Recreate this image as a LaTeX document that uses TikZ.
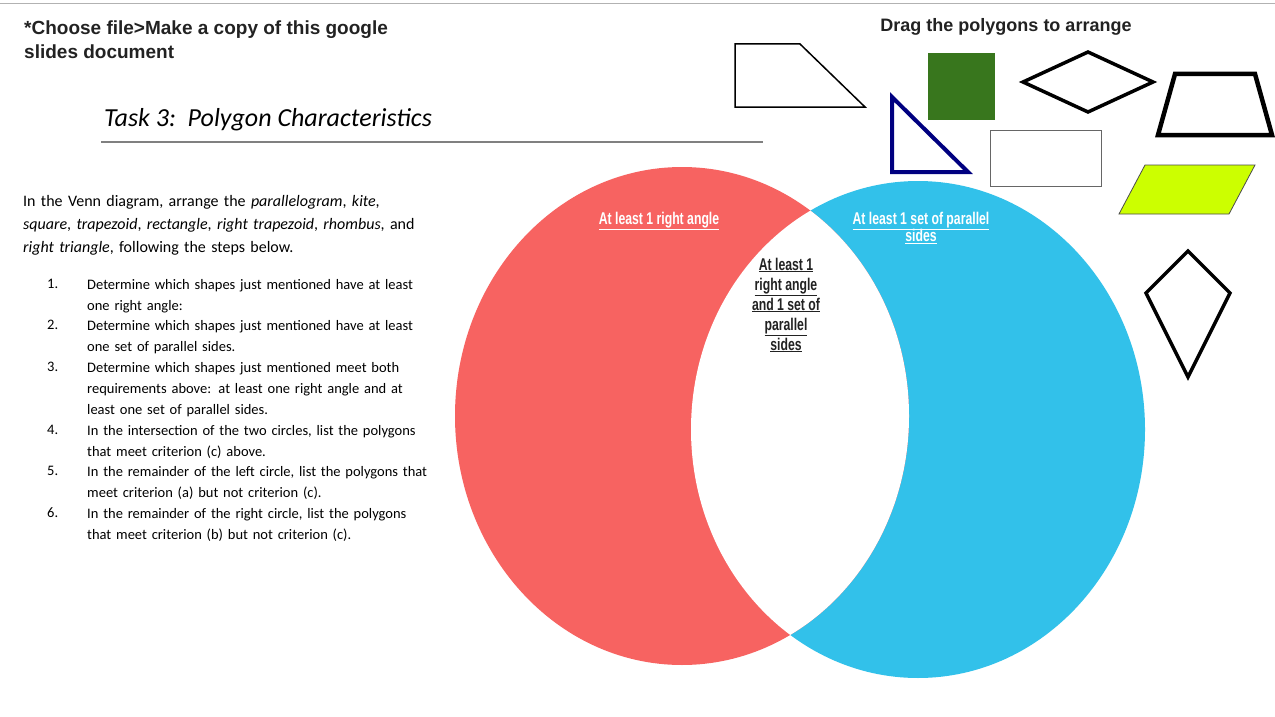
\documentclass[tikz,border=0pt]{standalone}
\usepackage{fontspec}
\setmainfont{Carlito}
\newfontfamily\hv{Liberation Sans}
\newfontfamily\cond[FakeStretch=0.72]{Liberation Sans Bold}
\definecolor{vred}{HTML}{F76361}
\definecolor{vblue}{HTML}{32C1EA}
\definecolor{dgreen}{HTML}{38761D}
\definecolor{lime}{HTML}{CCFF00}
\definecolor{navy2}{HTML}{000080}
\definecolor{txt}{HTML}{222222}
\tikzset{
  lbl/.style={font=\cond\fontsize{17}{21}\selectfont, align=center, inner sep=0},
  itm/.style={anchor=north west, align=left, text width=340pt, inner sep=0, font=\fontsize{14.5}{21}\selectfont},
  num/.style={anchor=north west, inner sep=0, font=\fontsize{14.5}{21}\selectfont},
}
\begin{document}
\begin{tikzpicture}[x=1pt,y=-1pt]
\useasboundingbox (0,0) rectangle (1275,717);
\fill[white] (0,0) rectangle (1275,717);
\draw[gray!60, line width=1pt] (0,3.5) -- (1275,3.5);
% headings
\node[anchor=north west, inner sep=0, align=left, text=txt, font=\hv\bfseries\fontsize{19}{24}\selectfont] (h1) at (24,21) {*Choose file>Make a copy of this google\\slides document};
\node[anchor=west, inner sep=0, font=\itshape\fontsize{26}{30}\selectfont] (t3) at (104,120) {Task 3:\ \ Polygon Characteristics};
\draw[gray, line width=1.2pt] (101,142) -- (763,142);
\node[anchor=north west, inner sep=0, text width=395pt, align=left, font=\fontsize{16}{23}\selectfont] (para) at (23,195) {In the Venn diagram, arrange the \textit{parallelogram}, \textit{kite}, \textit{square}, \textit{trapezoid}, \textit{rectangle}, \textit{right trapezoid}, \textit{rhombus}, and \textit{right triangle}, following the steps below.};
\foreach \n/\y/\t in {1/279/{Determine which shapes just mentioned have at least one right angle:},
  2/320/{Determine which shapes just mentioned have at least one set of parallel sides.},
  3/362/{Determine which shapes just mentioned meet both requirements above: at least one right angle and at least one set of parallel sides.},
  4/425/{In the intersection of the two circles, list the polygons that meet criterion (c) above.},
  5/466/{In the remainder of the left circle, list the polygons that meet criterion (a) but not criterion (c).},
  6/508/{In the remainder of the right circle, list the polygons that meet criterion (b) but not criterion (c).}}{
  \node[num] (n\n) at (47,\y) {\n.};
  \node[itm] (i\n) at (87,\y) {\t};
}
% Venn
\fill[vblue] (918,429.5) ellipse [x radius=227, y radius=248.5];
\fill[vred] (682,416) ellipse [x radius=227, y radius=249];
\begin{scope}
\clip (918,429.5) ellipse [x radius=227, y radius=248.5];
\fill[white] (682,416) ellipse [x radius=227, y radius=249];
\end{scope}
\node[lbl, text=white] (la) at (659,221) {\underline{At least 1 right angle}};
\node[lbl, text=white] (lb) at (921,228) {\underline{At least 1 set of parallel}\\[-4pt]\underline{sides}};
\node[lbl, text=txt] (lc) at (786,305) {\underline{At least 1}\\[-1pt]\underline{right angle}\\[-1pt]\underline{and 1 set of}\\[-1pt]\underline{parallel}\\[-1pt]\underline{sides}};
% polygons
\node[inner sep=0, text=txt, font=\hv\bfseries\fontsize{18}{22}\selectfont] (drag) at (1006,27) {Drag the polygons to arrange};
\draw[line width=1.5pt] (735,44) -- (800,44) -- (865,107) -- (735,107) -- cycle;
\fill[dgreen] (928,53) rectangle (995,120);
\draw[line width=3.5pt, line join=miter] (1023,82) -- (1088,52) -- (1153,82) -- (1088,112) -- cycle;
\draw[line width=4.5pt] (1175,74) -- (1255,74) -- (1272,135) -- (1158,135) -- cycle;
\draw[navy2, line width=4pt] (892,97) -- (892,172) -- (968,172) -- cycle;
\draw[gray!80!black, line width=0.8pt] (990,130) rectangle (1101,186);
\draw[fill=lime, draw=black!70, line width=0.8pt] (1145,165) -- (1255,165) -- (1229,214) -- (1119,214) -- cycle;
\draw[line width=3.5pt] (1188,251) -- (1230,293) -- (1188,377) -- (1146,293) -- cycle;
\end{tikzpicture}
\end{document}
